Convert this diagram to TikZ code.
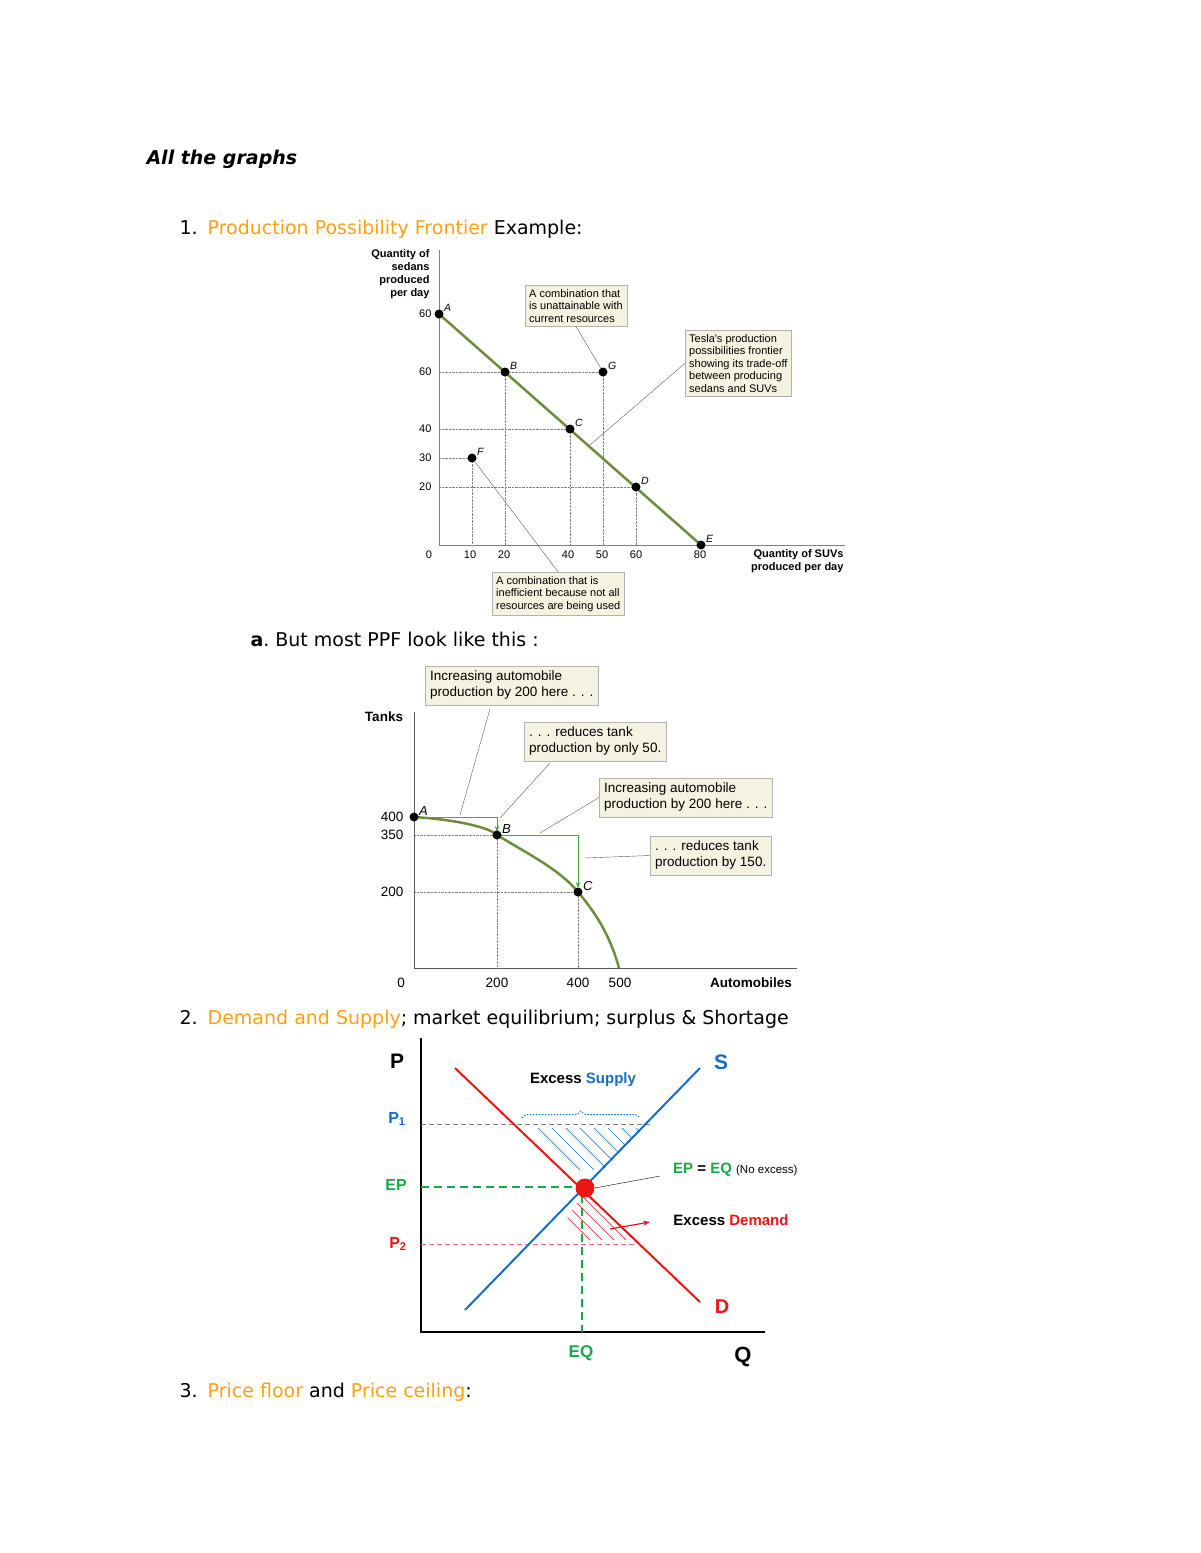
\documentclass[tikz,border=0pt]{standalone}
\usepackage{fontspec}
\setmainfont{DejaVu Sans}
\newfontfamily\gf{Liberation Sans}
\usetikzlibrary{arrows.meta,decorations.pathreplacing}
\definecolor{org}{RGB}{255,160,20}
\definecolor{grn}{RGB}{110,140,60}
\definecolor{agrn}{RGB}{60,170,60}
\definecolor{sblue}{RGB}{20,110,200}
\definecolor{sred}{RGB}{240,20,20}
\definecolor{sgreen}{RGB}{20,170,70}
\definecolor{boxbg}{RGB}{245,242,225}
\tikzset{
 body/.style={anchor=base west,font=\fontsize{19}{22}\selectfont},
 lbl/.style={font=\gf\fontsize{11}{12}\selectfont},
 ann/.style={draw=gray!60,fill=boxbg,font=\gf\fontsize{11}{12.5}\selectfont,align=left,inner sep=4pt,anchor=north west},
 dot/.style={circle,fill=black,inner sep=0pt,minimum size=9pt},
 guide/.style={densely dotted,gray,thin},
 leader/.style={gray!70!black,thin},
 big/.style={font=\gf\bfseries\fontsize{19}{20}\selectfont},
 ldash/.style={dash pattern=on 8pt off 5pt}
}
\begin{document}
\begin{tikzpicture}[x=1pt,y=-1pt]
\useasboundingbox (0,0) rectangle (1200,1553);
% headings
\node[anchor=base west,font=\itshape\bfseries\fontsize{19}{20}\selectfont] (title) at (143,164) {All the graphs};
\node[body] (h1) at (176,234) {1.\hspace{10pt}\textcolor{org}{Production Possibility Frontier} Example:};
\node[body] (ha) at (247,646) {\textbf{a}.\hspace{6pt}But most PPF look like this :};
\node[body] (h2) at (176,1024) {2.\hspace{10pt}\textcolor{org}{Demand and Supply}; market equilibrium; surplus \& Shortage};
\node[body] (h3) at (176,1397) {3.\hspace{10pt}\textcolor{org}{Price floor} and \textcolor{org}{Price ceiling}:};

% ===== Graph 1
\draw[gray] (439,250) -- (439,545) -- (845,545);
\node[lbl,font=\gf\bfseries\fontsize{11}{13}\selectfont,align=right,anchor=north east] (yl1) at (433,246) {Quantity of\\sedans\\produced\\per day};
\node[lbl,font=\gf\bfseries\fontsize{11}{13}\selectfont,align=right,anchor=north east] (xl1) at (847,546) {Quantity of SUVs\\produced per day};
\foreach \y/\t in {314/60,372/60,429/40,458/30,487/20} \node[lbl,anchor=east] at (435,\y) {\t};
\foreach \x/\t in {429/0,470/10,504/20,568/40,602/50,636/60,700/80} \node[lbl] at (\x,555) {\t};
\draw[guide] (439,372) -- (603,372);
\draw[guide] (439,429) -- (570,429);
\draw[guide] (439,458) -- (472,458);
\draw[guide] (439,487) -- (636,487);
\foreach \x/\y in {472/458,505/372,570/429,603/372,636/487} \draw[guide] (\x,\y) -- (\x,545);
\draw[grn,line width=2.5pt] (439,314) -- (701,545);
\foreach \n/\x/\y in {A/439/314,B/505/372,C/570/429,D/636/487,E/701/545,F/472/458,G/603/372} {
 \node[dot] (p\n) at (\x,\y) {};
 \node[lbl,font=\gf\itshape\fontsize{10.5}{11}\selectfont,anchor=south west,inner sep=1pt] at (\x+4,\y-1) {\n};
}
\node[ann] (b1) at (525,285) {A combination that\\is unattainable with\\current resources};
\node[ann] (b2) at (685,330) {Tesla's production\\possibilities frontier\\showing its trade-off\\between producing\\sedans and SUVs};
\node[ann] (b3) at (492,572) {A combination that is\\inefficient because not all\\resources are being used};
\coordinate (t1) at (590,445);
\draw[leader] (b1.south) -- (pG);
\draw[leader] (b2.west) -- (t1);
\draw[leader] (b3.north) -- (pF);

% ===== Graph 2
\draw[gray!70!black] (414,712) -- (414,968) -- (797,968);
\node[lbl,font=\gf\bfseries\fontsize{13.5}{14}\selectfont] (tanks) at (384,717) {Tanks};
\node[lbl,font=\gf\bfseries\fontsize{13.5}{14}\selectfont] (autos) at (751,983) {Automobiles};
\foreach \y/\t in {817/400,835/350,892/200} \node[lbl,anchor=east,font=\gf\fontsize{13.5}{14}\selectfont] at (407,\y) {\t};
\foreach \x/\t in {401/0,497/200,578/400,620/500} \node[lbl,font=\gf\fontsize{13.5}{14}\selectfont] at (\x,983) {\t};
\draw[guide] (414,835) -- (497,835) -- (497,968);
\draw[guide] (414,892) -- (578,892) -- (578,968);
\draw[grn,line width=2.5pt] (414,817) .. controls (460,820) and (490,828) .. (497,835) .. controls (530,855) and (560,870) .. (578,892) .. controls (595,912) and (610,935) .. (619,968);
\draw[agrn,thick,-{Stealth[length=6pt]}] (414,817) -- (497,817) -- (497,832);
\draw[agrn,thick,-{Stealth[length=6pt]}] (497,835) -- (578,835) -- (578,888);
\foreach \n/\x/\y in {A/414/817,B/497/835,C/578/892} {
 \node[dot] (q\n) at (\x,\y) {};
 \node[lbl,font=\gf\itshape\fontsize{13}{14}\selectfont,anchor=south west,inner sep=1pt] at (\x+4,\y) {\n};
}
\tikzset{ann2/.style={ann,font=\gf\fontsize{13.5}{16}\selectfont,inner sep=5pt}}
\node[ann2] (c1) at (425,666) {Increasing automobile\\production by 200 here . . .};
\node[ann2] (c2) at (524,722) {. . . reduces tank\\production by only 50.};
\node[ann2] (c3) at (599,778) {Increasing automobile\\production by 200 here . . .};
\node[ann2] (c4) at (650,836) {. . . reduces tank\\production by 150.};
\coordinate (u1) at (460,815); \coordinate (u2) at (500,818);
\coordinate (u3) at (540,833); \coordinate (u4) at (585,858);
\coordinate (v1) at (490,709); \coordinate (v2) at (550,763);
\draw[leader] (v1) -- (u1);
\draw[leader] (v2) -- (u2);
\draw[leader] (c3.west) -- (u3);
\draw[leader] (c4.west) -- (u4);

% ===== Graph 3
\draw[line width=1.8pt] (421,1038) -- (421,1332) -- (765,1332);
\draw[gray,dash pattern=on 5pt off 3pt] (421,1124) -- (650,1124);
\draw[sred!60,dash pattern=on 5pt off 3pt] (421,1244) -- (635,1244);
\draw[sgreen,ldash,line width=2pt] (421,1187) -- (585,1187);
\draw[sgreen,ldash,line width=2pt] (582,1195) -- (582,1332);
\begin{scope}
\clip (514,1128) -- (644,1128) -- (587,1186) -- cycle;
\foreach \i in {0,...,8} \draw[sblue,thin] (520+\i*14,1110) -- +(60,60);
\end{scope}
\begin{scope}
\clip (553,1240) -- (635,1240) -- (590,1195) -- (582,1195) -- cycle;
\foreach \i in {0,...,8} \draw[sred,thin] (540+\i*12,1190) -- +(50,50);
\end{scope}
\draw[sred,line width=2pt] (455,1068) -- (700,1302);
\draw[sblue,line width=2pt] (465,1310) -- (700,1068);
\node[circle,fill=sred,inner sep=0pt,minimum size=19pt] (eq) at (585,1188) {};
\node[big,font=\gf\bfseries\fontsize{21}{21}\selectfont] (P) at (397,1061) {P};
\node[big,sblue,font=\gf\bfseries\fontsize{16}{17}\selectfont] (P1) at (397,1119) {P\textsubscript{1}};
\node[big,sgreen,font=\gf\bfseries\fontsize{16}{17}\selectfont] (EP) at (396,1185) {EP};
\node[big,sred,font=\gf\bfseries\fontsize{16}{17}\selectfont] (P2) at (398,1244) {P\textsubscript{2}};
\node[big,sblue,font=\gf\bfseries\fontsize{21}{21}\selectfont] (S) at (721,1062) {S};
\node[big,sred,font=\gf\bfseries\fontsize{20}{21}\selectfont] (D) at (722,1307) {D};
\node[big,sgreen,font=\gf\bfseries\fontsize{17}{18}\selectfont] (EQ) at (581,1353) {EQ};
\node[big,font=\gf\bfseries\fontsize{22}{22}\selectfont] (Q) at (743,1357) {Q};
\node[font=\gf\bfseries\fontsize{15}{16}\selectfont] (es) at (583,1080) {Excess \textcolor{sblue}{Supply}};
\draw[sblue,line width=1pt,dash pattern=on 1.5pt off 1.5pt,decorate,decoration={brace,amplitude=7pt}] (522,1118) -- (640,1118);
\node[anchor=west,font=\gf\bfseries\fontsize{15}{16}\selectfont,sgreen,inner sep=0pt] (epeq) at (673,1170) {EP \textcolor{black}{=} EQ \textcolor{black}{\mdseries\fontsize{11.5}{12}\selectfont(No excess)}};
\coordinate (e1) at (660,1176);
\draw[black] (eq.east) -- (e1);
\node[font=\gf\bfseries\fontsize{15}{16}\selectfont] (ed) at (731,1220) {Excess \textcolor{sred}{Demand}};
\coordinate (ar1) at (610,1229); \coordinate (ar2) at (650,1222);
\draw[sred,line width=1.2pt,-{Stealth[length=7pt]}] (ar1) -- (ar2);
\end{tikzpicture}
\end{document}
